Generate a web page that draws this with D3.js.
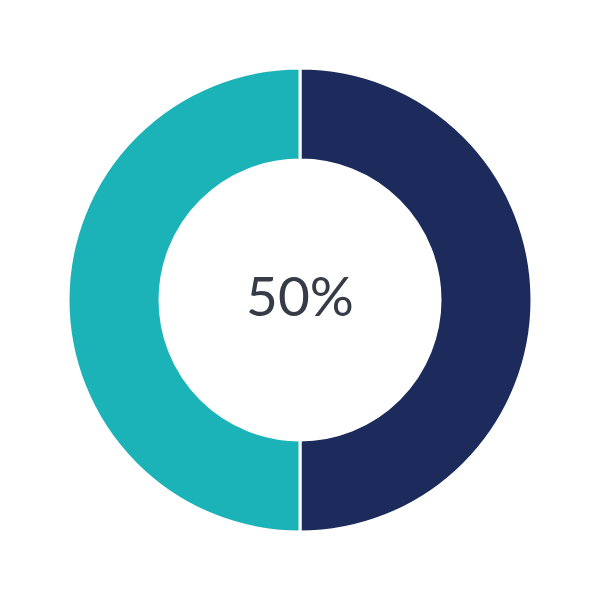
<!DOCTYPE html>
<html>
<head>
<meta charset="utf-8">
<script src="https://cdn.jsdelivr.net/npm/d3@7"></script>
<style>
  html, body { margin: 0; padding: 0; background: #fff; }
</style>
</head>
<body>
<div id="chart"></div>
<script>
// Chart data
const labels = ["Share", "Rest"];
const values = [50, 50];
const colors = ["#1c2b5b", "#1bb3b7"];
const centerLabel = "50%";

const width = 600;
const height = 600;
const outerRadius = 232;
const innerRadius = 140;

const svg = d3.select("#chart")
    .append("svg")
    .attr("width", width)
    .attr("height", height);

const g = svg.append("g")
    .attr("transform", `translate(${width / 2},${height / 2})`);

const pie = d3.pie()
    .sort(null)
    .value(d => d);

const arc = d3.arc()
    .innerRadius(innerRadius)
    .outerRadius(outerRadius);

const color = d3.scaleOrdinal()
    .domain(labels)
    .range(colors);

// Slices
g.selectAll("path")
    .data(pie(values))
    .join("path")
    .attr("d", arc)
    .attr("fill", (d, i) => color(labels[i]))
    .attr("stroke", "#fff")
    .attr("stroke-width", 3);

// Center label
g.append("text")
    .text(centerLabel)
    .attr("text-anchor", "middle")
    .attr("y", -3)
    .attr("dy", "0.35em")
    .style("font-family", "Lato, sans-serif")
    .style("font-size", "55px")
    .style("fill", "#353c47");
</script>
</body>
</html>
